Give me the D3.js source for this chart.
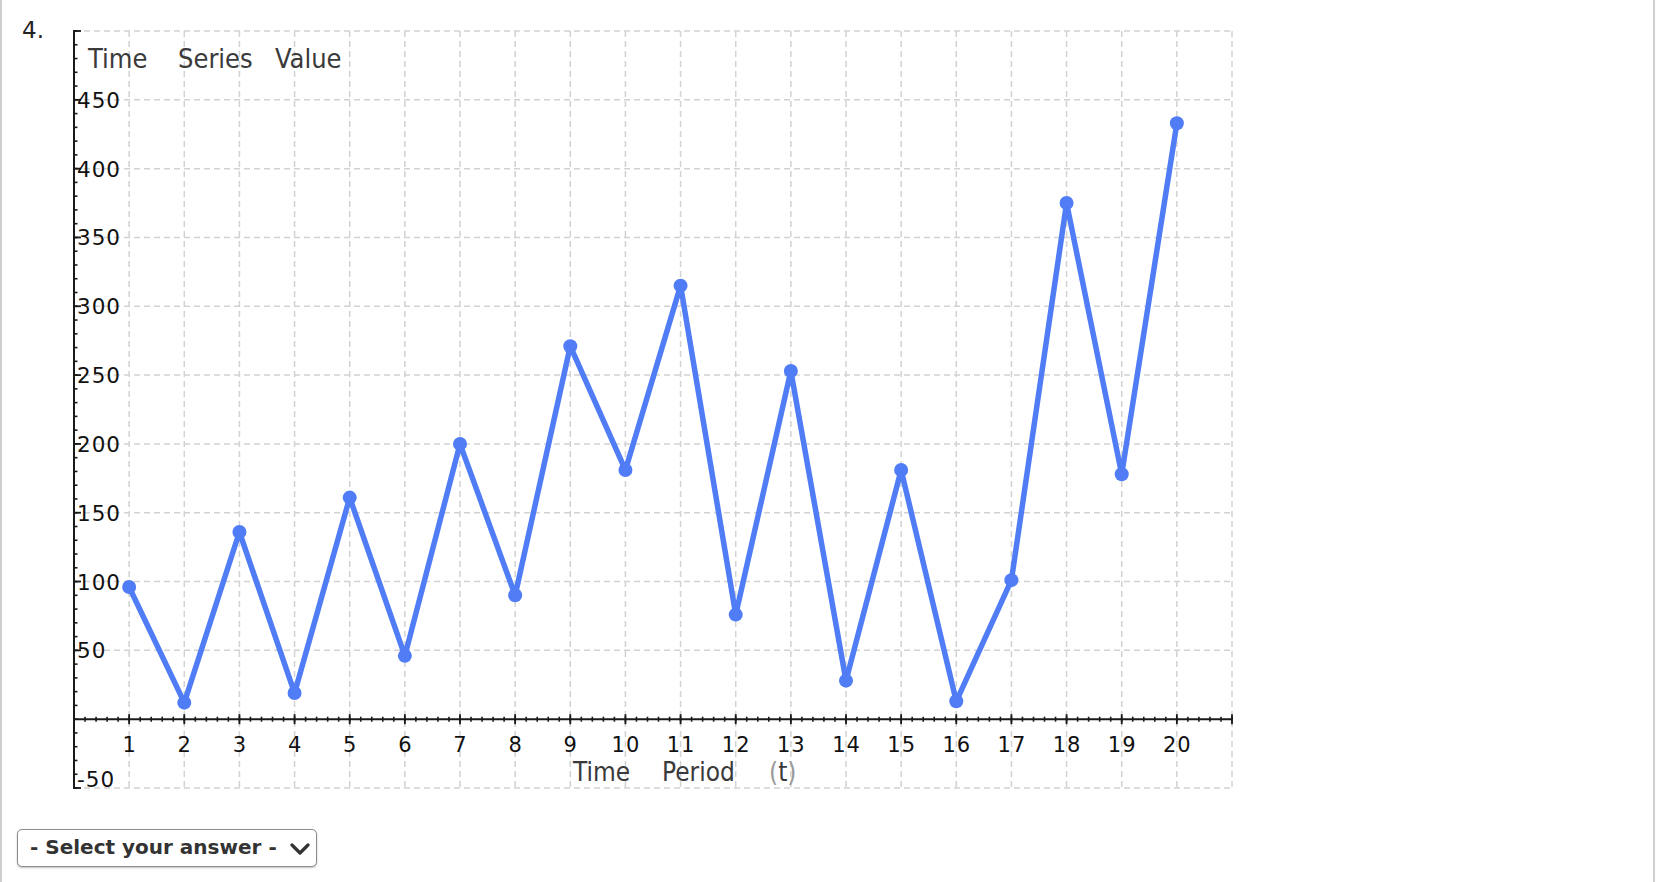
<!DOCTYPE html>
<html>
<head>
<meta charset="utf-8">
<script src="https://cdn.jsdelivr.net/npm/d3@7"></script>
<style>
  html, body { margin: 0; padding: 0; background: #fff; }
  #wrap { position: relative; width: 1658px; height: 882px; overflow: hidden; background: #fff; }
  .bord { position: absolute; top: 0; width: 2px; height: 882px; background: #cfcfcf; }
  #sel { position: absolute; left: 17px; top: 829px; width: 300px; height: 38px; box-sizing: border-box;
         border: 1.5px solid #8c8c8c; border-radius: 5px; box-shadow: 0 1px 2px rgba(0,0,0,0.25);
         background: #fff; font-family: "DejaVu Sans", Verdana, sans-serif; font-weight: bold;
         font-size: 20px; color: #333; line-height: 35px; padding-left: 12px; white-space: pre; }
  #sel svg { position: absolute; left: 272px; top: 12px; }
  #qnum { position: absolute; left: 22px; top: 17px; font-family: "DejaVu Sans", Verdana, sans-serif;
          font-size: 23px; color: #222; }
</style>
</head>
<body>
<div id="wrap">
  <div class="bord" style="left:0px"></div>
  <div class="bord" style="left:1653px"></div>
  <div id="qnum">4.</div>
  <svg id="chart" width="1658" height="882" style="position:absolute;left:0;top:0"></svg>
  <div id="sel">- Select your answer -<svg width="22" height="14"><polyline points="2,3 10,11 18,3" fill="none" stroke="#333" stroke-width="3.2" stroke-linecap="round" stroke-linejoin="round"/></svg></div>
</div>
<script>
// ---- data ----
const periods = [1, 2, 3, 4, 5, 6, 7, 8, 9, 10, 11, 12, 13, 14, 15, 16, 17, 18, 19, 20];
const values  = [96, 12, 136, 19, 161, 46, 200, 90, 271, 181, 315, 76, 253, 28, 181, 13, 101, 375, 178, 433];
const yTickLabels = [-50, 50, 100, 150, 200, 250, 300, 350, 400, 450];
const xTickLabels = [1, 2, 3, 4, 5, 6, 7, 8, 9, 10, 11, 12, 13, 14, 15, 16, 17, 18, 19, 20];
const yGridValues = [-50, 50, 100, 150, 200, 250, 300, 350, 400, 450, 500];
const xGridValues = [1, 2, 3, 4, 5, 6, 7, 8, 9, 10, 11, 12, 13, 14, 15, 16, 17, 18, 19, 20, 21];
const yTitleWords = ["Time", "Series", "Value"];
const xTitleWords = ["Time", "Period"];

// ---- scales ----
const x = d3.scaleLinear().domain([0, 21]).range([74, 1232]);
const y = d3.scaleLinear().domain([-50, 500]).range([788, 31]);

const svg = d3.select("#chart");
const tickFont = '"DejaVu Sans", Verdana, sans-serif';
const titleFont = '"DejaVu Sans Condensed", "DejaVu Sans", sans-serif';

// grid
const grid = svg.append("g").attr("stroke", "#d2d2d2").attr("stroke-width", 1.5).attr("stroke-dasharray", "6,4").attr("fill", "none");
grid.selectAll("line.h").data(yGridValues).join("line")
  .attr("x1", x(0)).attr("x2", x(21)).attr("y1", d => y(d)).attr("y2", d => y(d));
grid.selectAll("line.v").data(xGridValues).join("line")
  .attr("x1", d => x(d)).attr("x2", d => x(d)).attr("y1", y(500)).attr("y2", y(-50));

// x axis
const xAxis = svg.append("g").attr("stroke", "#1a1a1a");
xAxis.append("line").attr("x1", x(0)).attr("x2", x(21)).attr("y1", y(0)).attr("y2", y(0)).attr("stroke-width", 2);
const xMinor = d3.range(0, 21.0001, 0.2);
xAxis.selectAll("line.mi").data(xMinor).join("line")
  .attr("x1", d => x(d)).attr("x2", d => x(d)).attr("y1", y(0) - 2.5).attr("y2", y(0) + 2.5).attr("stroke-width", 1.6);
xAxis.selectAll("line.ma").data(xGridValues).join("line")
  .attr("x1", d => x(d)).attr("x2", d => x(d)).attr("y1", y(0) - 5).attr("y2", y(0) + 5).attr("stroke-width", 1.8);

svg.append("g").selectAll("text").data(xTickLabels).join("text")
  .attr("x", d => x(d) + 0.5).attr("y", y(0) + 33)
  .attr("text-anchor", "middle").attr("font-family", tickFont).attr("font-size", 21)
  .attr("letter-spacing", 1).attr("fill", "#111").text(d => d);

// y axis
const yAxis = svg.append("g").attr("stroke", "#1a1a1a");
yAxis.append("line").attr("x1", x(0)).attr("x2", x(0)).attr("y1", y(500)).attr("y2", y(-50)).attr("stroke-width", 2);
const yMinor = d3.range(-50, 500.001, 10);
yAxis.selectAll("line.mi").data(yMinor).join("line")
  .attr("x1", x(0) - 1).attr("x2", x(0) + 3.5).attr("y1", d => y(d)).attr("y2", d => y(d)).attr("stroke-width", 1.6);
yAxis.selectAll("line.ma").data(yGridValues).join("line")
  .attr("x1", x(0) - 1).attr("x2", x(0) + 7).attr("y1", d => y(d)).attr("y2", d => y(d)).attr("stroke-width", 1.8);

svg.append("g").selectAll("text").data(yTickLabels).join("text")
  .attr("x", x(0) + 3).attr("y", d => d === -50 ? y(d) - 1 : y(d) + 8)
  .attr("font-family", tickFont).attr("font-size", 21.5).attr("letter-spacing", 1)
  .attr("fill", "#111").text(d => d);

// titles
const yTitle = svg.append("text").attr("y", 68).attr("font-family", titleFont).attr("font-size", 27).attr("fill", "#3a3a3a");
const yTitleX = [88, 178, 275];
yTitle.selectAll("tspan").data(yTitleWords).join("tspan").attr("x", (d, i) => yTitleX[i]).text(d => d);

const xTitle = svg.append("text").attr("y", 781).attr("font-family", titleFont).attr("font-size", 26).attr("fill", "#3a3a3a");
const xTitleX = [573, 662];
xTitle.selectAll("tspan.w").data(xTitleWords).join("tspan").attr("x", (d, i) => xTitleX[i]).text(d => d);
xTitle.append("tspan").attr("x", 769).attr("fill", "#9a9a9a").text("(");
xTitle.append("tspan").attr("fill", "#3a3a3a").text("t");
xTitle.append("tspan").attr("fill", "#9a9a9a").text(")");

// series
const pts = periods.map((p, i) => [p, values[i]]);
svg.append("path").datum(pts)
  .attr("fill", "none").attr("stroke", "#507df6").attr("stroke-width", 5.5).attr("stroke-linejoin", "round")
  .attr("d", d3.line().x(d => x(d[0])).y(d => y(d[1])));
svg.append("g").selectAll("circle").data(pts).join("circle")
  .attr("cx", d => x(d[0])).attr("cy", d => y(d[1])).attr("r", 7).attr("fill", "#507df6");
</script>
</body>
</html>
